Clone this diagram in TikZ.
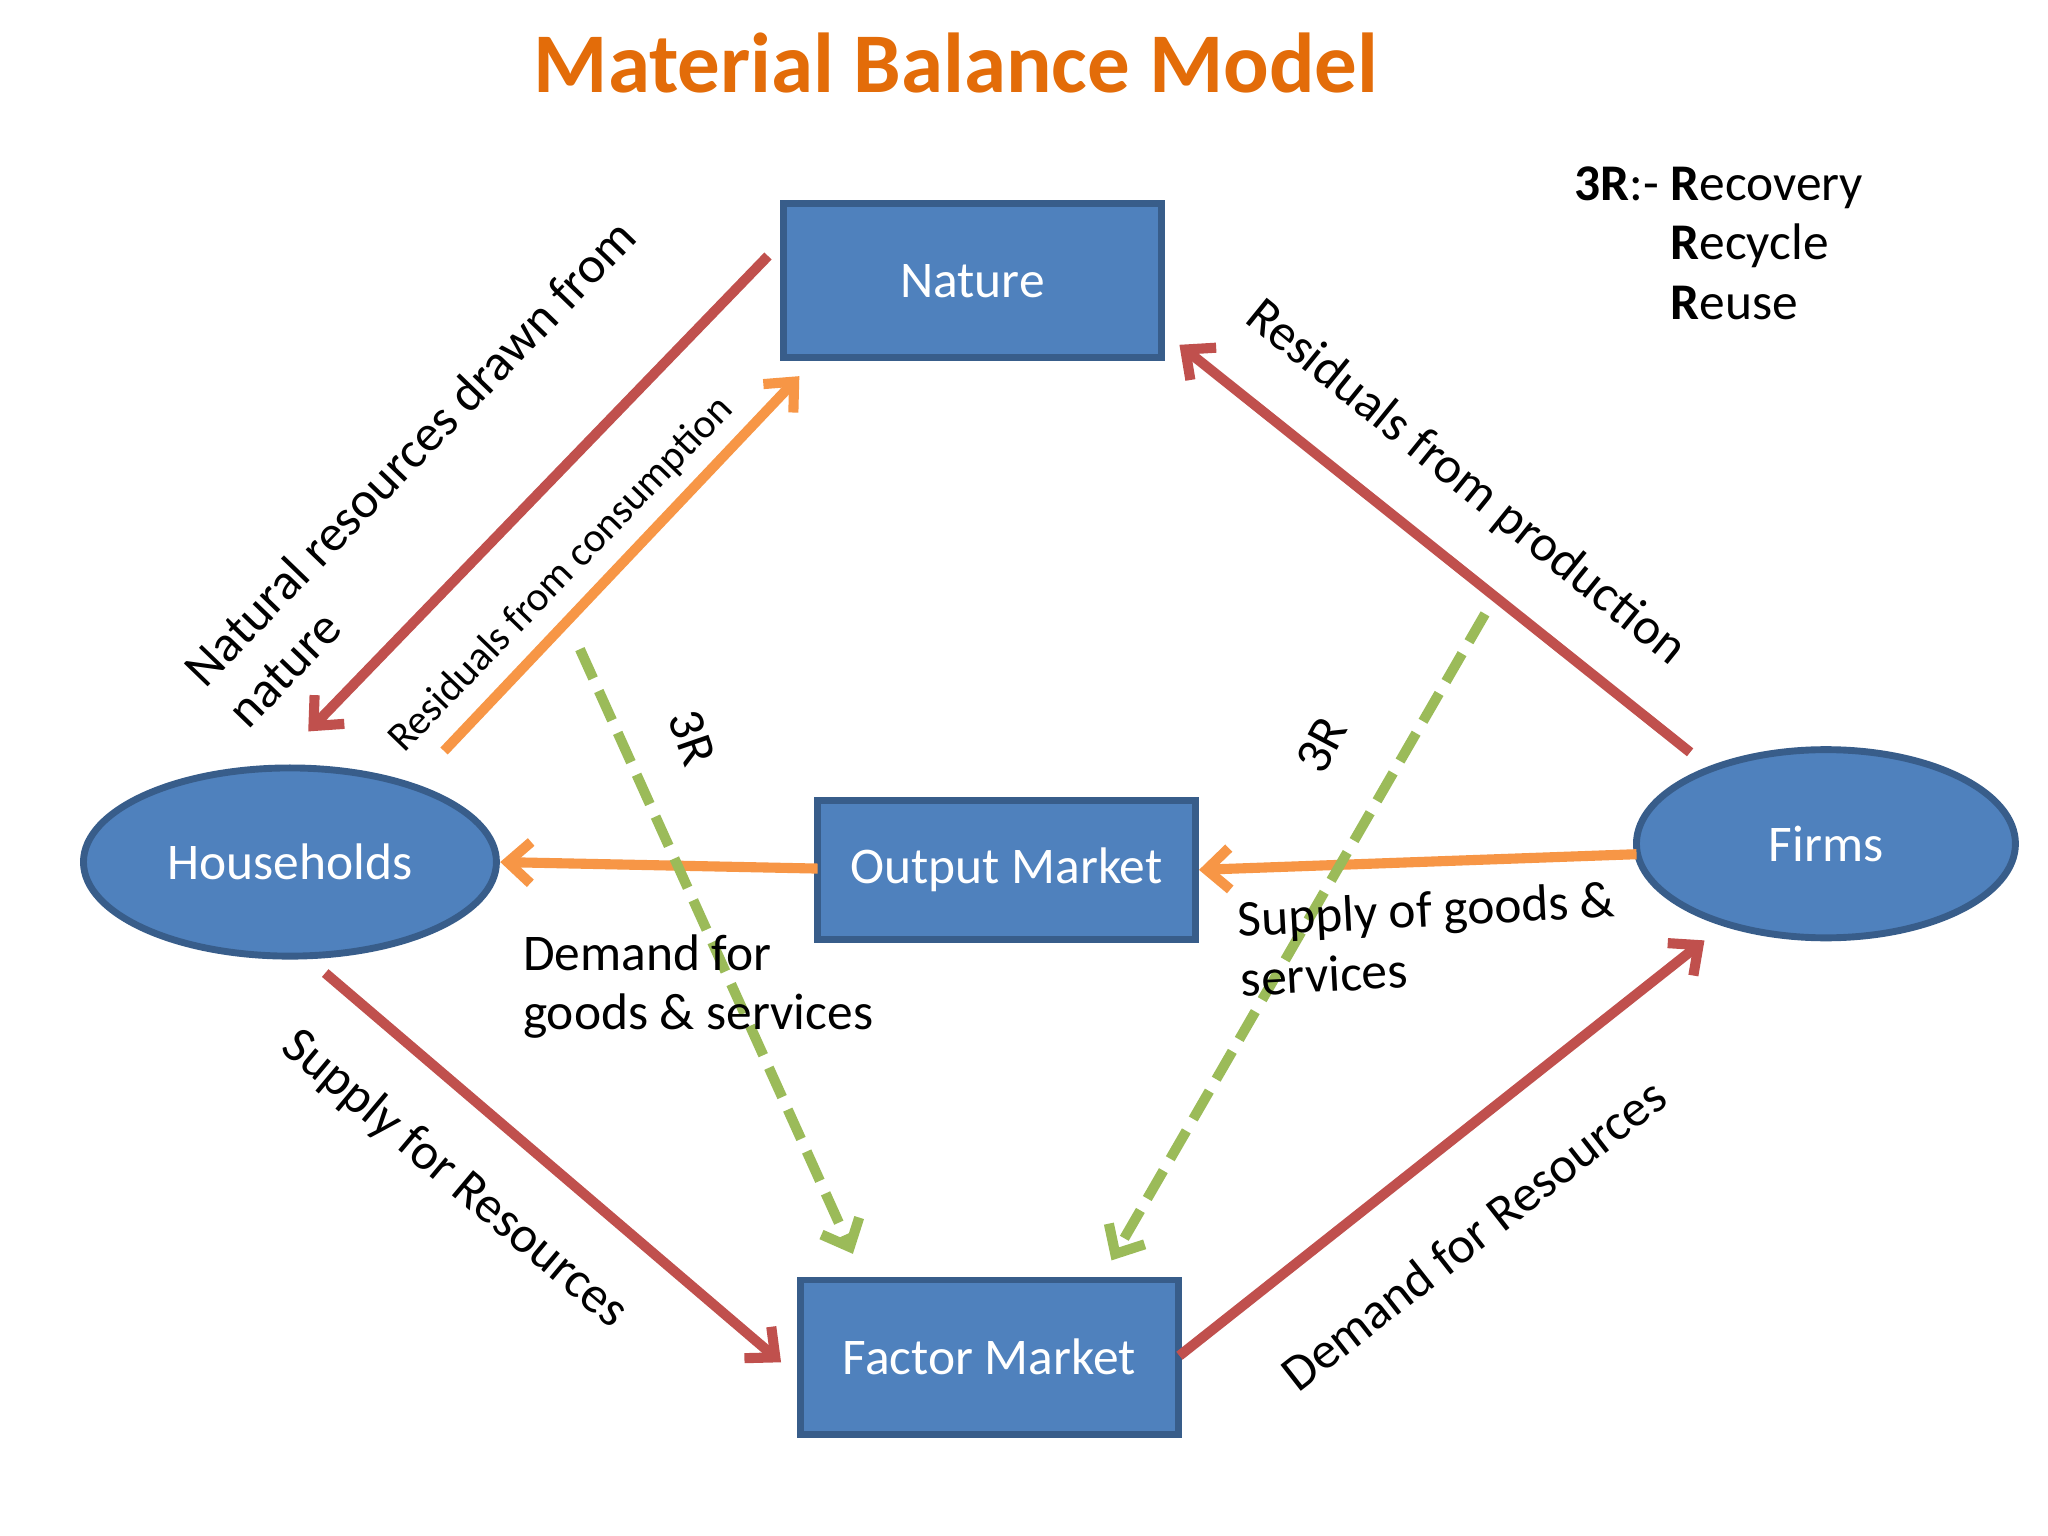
\documentclass[tikz,border=0pt]{standalone}
\usepackage{fontspec}
\setmainfont{Carlito}
\usetikzlibrary{shapes.geometric,arrows.meta}
\definecolor{boxblue}{HTML}{4F81BD}
\definecolor{boxedge}{HTML}{385D8A}
\definecolor{redA}{HTML}{C0504D}
\definecolor{orA}{HTML}{F79646}
\definecolor{grA}{HTML}{9BBB59}
\definecolor{titleC}{HTML}{E36C09}
\tikzset{
 box/.style={draw=boxedge,line width=1.5pt,fill=boxblue,text=white,font=\fontsize{11.2}{13}\selectfont,inner sep=0pt},
 ell/.style={ellipse,draw=boxedge,line width=1.5pt,fill=boxblue,text=white,font=\fontsize{11.2}{13}\selectfont,inner sep=0pt},
 arr/.style={line width=2.2pt,-{Straight Barb[length=5pt,width=9pt]}},
 red/.style={arr,draw=redA},
 ora/.style={arr,draw=orA},
 gre/.style={arr,draw=grA,dash pattern=on 7pt off 3pt},
 lab/.style={font=\fontsize{11.2}{13}\selectfont,align=center},
}
\begin{document}
\begin{tikzpicture}[x=0.01cm,y=-0.01cm]
\useasboundingbox (0,0) rectangle (1568,1176);
\fill[white] (0,0) rectangle (1568,1176);
\node[font=\fontsize{18.5}{22}\selectfont\bfseries,text=titleC] (title) at (732,48) {Material Balance Model};
\node[box,minimum width=2.89cm,minimum height=1.18cm] (nat) at (744.5,215) {Nature};
\node[box,minimum width=2.89cm,minimum height=1.06cm] (out) at (770.5,666) {Output Market};
\node[box,minimum width=2.89cm,minimum height=1.18cm] (fac) at (757.5,1039) {Factor Market};
\node[ell,minimum width=3.16cm,minimum height=1.44cm] (hh) at (222,660) {Households};
\node[ell,minimum width=2.9cm,minimum height=1.44cm] (firm) at (1398,646) {Firms};
\coordinate (a1) at (588,196); \coordinate (a2) at (236,560);
\coordinate (b1) at (340,575); \coordinate (b2) at (612,288);
\coordinate (c1) at (1294,576); \coordinate (c2) at (903,264);
\coordinate (d1) at (1253,654); \coordinate (d2) at (918,666);
\coordinate (e1) at (626,665); \coordinate (e2) at (383,660);
\coordinate (f1) at (249,745); \coordinate (f2) at (598,1043);
\coordinate (g1) at (903,1038); \coordinate (g2) at (1305,720);
\coordinate (h1) at (444,497); \coordinate (h2) at (653,960);
\coordinate (i1) at (1137,470); \coordinate (i2) at (851,965);
\draw[red] (a1) -- (a2);
\draw[ora] (b1) -- (b2);
\draw[red] (c1) -- (c2);
\draw[ora] (d1) -- (d2);
\draw[ora] (e1) -- (e2);
\draw[red] (f1) -- (f2);
\draw[red] (g1) -- (g2);
\draw[gre] (h1) -- (h2);
\draw[gre] (i1) -- (i2);
\node[lab,rotate=46,align=left] (l1) at (330,362) {Natural resources drawn from\\nature};
\node[lab,rotate=46,font=\fontsize{9}{11}\selectfont] (l2) at (430,440) {Residuals from consumption};
\node[lab,rotate=-39] (l3) at (1122,370) {Residuals from production};
\node[lab,rotate=-71] (l4) at (530,565) {3R};
\node[lab,rotate=62] (l5) at (1012,570) {3R};
\node[lab,rotate=-40] (l6) at (348,903) {Supply for Resources};
\node[lab,rotate=38] (l7) at (1128,945) {Demand for Resources};
\node[lab,align=left,anchor=north west] (l8) at (388,703) {Demand for\\goods \& services};
\node[lab,align=left,anchor=north west,rotate=3] (l9) at (934,678) {Supply of goods \&\\services};
\node[lab,align=left,anchor=north west] (leg) at (1193,115) {\textbf{3R}:- \textbf{R}ecovery\\\hphantom{\textbf{3R}:- }\textbf{R}ecycle\\\hphantom{\textbf{3R}:- }\textbf{R}euse};
\end{tikzpicture}
\end{document}
